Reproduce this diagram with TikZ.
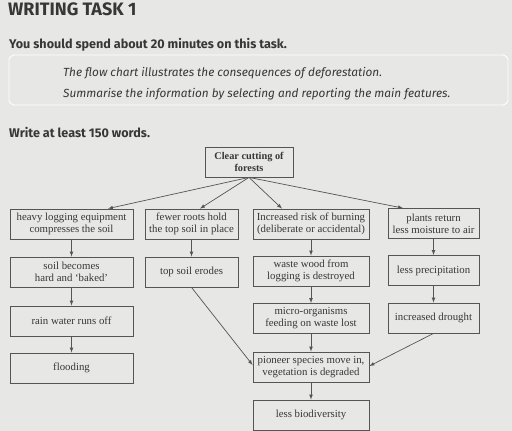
\documentclass[tikz,border=0pt]{standalone}
\usepackage{fontspec}
\setmainfont{Liberation Serif}
\newfontfamily\headfont{Fira Sans}
\definecolor{pagebg}{RGB}{231,231,229}
\definecolor{ink}{RGB}{55,55,55}
\definecolor{rule}{RGB}{85,85,85}

\begin{document}
\begin{tikzpicture}[x=1pt, y=-1pt,
  box/.style={draw=rule, line width=0.8pt, inner sep=0pt, align=center, minimum height=30pt, text=ink,
    font=\fontsize{10.8}{12}\selectfont},
  head/.style={anchor=base west, inner sep=0pt, text=ink},
  arr/.style={-latex, draw=rule, line width=0.7pt}]
\fill[pagebg] (0,0) rectangle (512,431);
\useasboundingbox (0,0) rectangle (512,431);
% header and instructions
\node[head, font=\headfont\bfseries\fontsize{18}{21}\selectfont] (h1) at (8, 15.5) {WRITING TASK 1};
\node[head, font=\headfont\bfseries\fontsize{12.6}{15}\selectfont] (h2) at (9, 48) {You should spend about 20 minutes on this task.};
\draw[white, line width=0.9pt, rounded corners=5pt] (9, 55) rectangle (508, 105);
\node[head, font=\headfont\itshape\fontsize{11.8}{14}\selectfont] (h3) at (63, 76) {The flow chart illustrates the consequences of deforestation.};
\node[head, font=\headfont\itshape\fontsize{11.8}{14}\selectfont] (h4) at (63, 97) {Summarise the information by selecting and reporting the main features.};
\node[head, font=\headfont\bfseries\fontsize{12.6}{15}\selectfont] (h5) at (9, 137) {Write at least 150 words.};
% flow chart
\node[box, minimum width=88pt, font=\bfseries\fontsize{10.3}{12}\selectfont] (0) at (249, 162) {Clear cutting of\\forests};
\node[box, minimum width=123pt] (1) at (71.5, 224) {heavy logging equipment\\compresses the soil};
\node[box, minimum width=93pt] (2) at (191.5, 224) {fewer roots hold\\the top soil in place};
\node[box, minimum width=116pt] (3) at (311, 224) {Increased risk of burning\\(deliberate or accidental)};
\node[box, minimum width=91pt] (4) at (433.5, 223.5) {plants return\\less moisture to air};
\node[box, minimum width=123pt] (5) at (71.5, 272) {soil becomes\\hard and `baked'};
\node[box, minimum width=93pt] (6) at (191.5, 272) {top soil erodes};
\node[box, minimum width=116pt] (7) at (311, 271) {waste wood from\\logging is destroyed};
\node[box, minimum width=91pt] (8) at (433.5, 270.5) {less precipitation};
\node[box, minimum width=123pt] (9) at (71.5, 321) {rain water runs off};
\node[box, minimum width=116pt] (10) at (311, 318.5) {micro-organisms\\feeding on waste lost};
\node[box, minimum width=91pt] (11) at (433.5, 318) {increased drought};
\node[box, minimum width=123pt] (12) at (71.5, 368) {flooding};
\node[box, minimum width=116pt] (13) at (311, 367) {pioneer species move in,\\vegetation is degraded};
\node[box, minimum width=116pt] (14) at (311, 415) {less biodiversity};
\draw[arr] (0.south) -- ([xshift=36.5pt]1.north);
\draw[arr] (0.south) -- ([xshift=8.5pt]2.north);
\draw[arr] (0.south) -- ([xshift=-29pt]3.north);
\draw[arr] (0.south) -- ([xshift=-30.5pt]4.north);
\draw[arr] (1) -- (5);
\draw[arr] (5) -- (9);
\draw[arr] (9) -- (12);
\draw[arr] (2) -- (6);
\draw[arr] (3) -- (7);
\draw[arr] (7) -- (10);
\draw[arr] (10) -- (13);
\draw[arr] (13) -- (14);
\draw[arr] (4) -- (8);
\draw[arr] (8) -- (11);
\draw[arr] (6.south) -- ([yshift=2pt]13.west);
\draw[arr] (11.south) -- ([yshift=1pt]13.east);
\end{tikzpicture}
\end{document}
